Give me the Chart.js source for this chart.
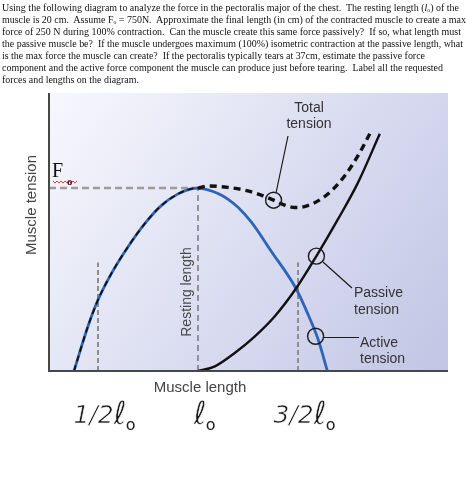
<!DOCTYPE html>
<html>
<head>
<meta charset="utf-8">
<script src="https://cdn.jsdelivr.net/npm/chart.js@4.4.0/dist/chart.umd.min.js"></script>
<style>
    html, body { margin: 0; padding: 0; background: #fff; }
    #wrap { position: relative; width: 467px; height: 496px; overflow: hidden; }
    #tension-chart { position: absolute; left: 0; top: 0; }
    #question {
        position: absolute; left: 2px; top: 1px;
        font-family: "Liberation Serif", "Times New Roman", serif;
        font-size: 11.2px; line-height: 12px; color: #111;
    }
    #question div { white-space: pre; transform-origin: 0 0; height: 12px; }
    #question sub { font-size: 6.5px; vertical-align: -1px; line-height: 0; }
</style>
</head>
<body>
<div id="wrap">
    <canvas id="tension-chart" width="467" height="496"></canvas>
    <div id="question">
        <div data-w="457">Using the following diagram to analyze the force in the pectoralis major of the chest.  The resting length (<i>l</i><sub>o</sub>) of the</div>
        <div data-w="464">muscle is 20 cm.  Assume F<sub>o</sub> = 750N.  Approximate the final length (in cm) of the contracted muscle to create a max</div>
        <div data-w="459">force of 250 N during 100% contraction.  Can the muscle create this same force passively?  If so, what length must</div>
        <div data-w="461">the passive muscle be?  If the muscle undergoes maximum (100%) isometric contraction at the passive length, what</div>
        <div data-w="423">is the max force the muscle can create?  If the pectoralis typically tears at 37cm, estimate the passive force</div>
        <div data-w="441">component and the active force component the muscle can produce just before tearing.  Label all the requested</div>
        <div data-w="137">forces and lengths on the diagram.</div>
    </div>
</div>
<script>
// muscle length in units of resting length, tension in units of F0
const activeX = [0.38, 0.447, 0.497, 0.564, 0.647, 0.731, 0.815, 0.898, 0.965, 1.0, 1.05, 1.1, 1.149, 1.2, 1.266, 1.366, 1.49, 1.55, 1.6, 1.647];
const activeY = [0, 0.235, 0.381, 0.527, 0.674, 0.802, 0.903, 0.967, 0.996, 1.0, 0.99, 0.97, 0.94, 0.895, 0.815, 0.655, 0.451, 0.31, 0.175, 0];

const passiveX = [1.0, 1.082, 1.182, 1.283, 1.383, 1.49, 1.592, 1.7, 1.8, 1.909];
const passiveY = [0, 0.024, 0.097, 0.188, 0.298, 0.451, 0.628, 0.83, 1.03, 1.297];

const totalX = [0.38, 0.447, 0.497, 0.564, 0.647, 0.731, 0.815, 0.898, 0.965, 1.0, 1.049, 1.149, 1.249, 1.316, 1.378, 1.433, 1.483, 1.533, 1.6, 1.667, 1.734, 1.8, 1.859];
const totalY = [0, 0.235, 0.381, 0.527, 0.674, 0.802, 0.903, 0.967, 0.996, 1.0, 1.012, 1.004, 0.985, 0.962, 0.934, 0.907, 0.894, 0.899, 0.93, 0.985, 1.068, 1.177, 1.297];

const refLengths = [0.5, 1.0, 1.5];
const refHeights = [0.593, 1.0, 0.593];
const lengthTicks = ["1/2", "", "3/2"];
const maxTension = 1.0;

const xMin = 0.255;
const xMax = 2.25;

const toPoints = (xs, ys) => xs.map((x, i) => ({ x: x, y: ys[i] }));

const refDatasets = refLengths.map((x, i) => ({
    label: "ref" + i,
    data: [{ x: x, y: 0 }, { x: x, y: refHeights[i] }],
    borderColor: i === 1 ? "#6a6a6a" : "#8e8e8e",
    borderWidth: i === 1 ? 1.3 : 2,
    borderDash: i === 1 ? [6, 4] : [5, 3],
    order: 10,
}));

const fitQuestion = () => {
    document.querySelectorAll("#question div").forEach((line) => {
        const span = document.createElement("span");
        span.innerHTML = line.innerHTML;
        line.innerHTML = "";
        line.appendChild(span);
        const natural = span.getBoundingClientRect().width;
        const target = parseFloat(line.dataset.w);
        line.style.transform = `scaleX(${target / natural})`;
    });
};

const decorPlugin = {
    id: "decor",
    beforeDatasetsDraw: (chart) => {
        const { ctx, chartArea: a } = chart;
        const g = ctx.createLinearGradient(a.left, a.top, a.right, a.bottom);
        g.addColorStop(0, "#f7f8fd");
        g.addColorStop(0.55, "#d9dcf0");
        g.addColorStop(1, "#c2c5e4");
        ctx.save();
        ctx.fillStyle = g;
        ctx.fillRect(a.left, a.top, a.right - a.left, a.bottom - a.top);
        ctx.restore();
    },
    afterDatasetsDraw: (chart) => {
        const { ctx, chartArea: a } = chart;
        const sx = chart.scales.x;
        const sy = chart.scales.y;
        ctx.save();

        // axes
        ctx.strokeStyle = "#474747";
        ctx.lineWidth = 2;
        ctx.beginPath();
        ctx.moveTo(a.left, a.top);
        ctx.lineTo(a.left, a.bottom);
        ctx.lineTo(a.right, a.bottom);
        ctx.stroke();

        // callout circles and leaders
        const circle = (x, y) => {
            ctx.beginPath();
            ctx.arc(sx.getPixelForValue(x), sy.getPixelForValue(y), 8, 0, Math.PI * 2);
            ctx.stroke();
        };
        ctx.strokeStyle = "#1c1c1c";
        ctx.lineWidth = 1.4;
        circle(1.378, 0.934);
        circle(1.592, 0.628);
        circle(1.588, 0.19);

        ctx.lineWidth = 1.2;
        ctx.beginPath();
        ctx.moveTo(288, 136);
        ctx.lineTo(276, 193);
        ctx.moveTo(323, 262);
        ctx.lineTo(352, 288);
        ctx.moveTo(324, 337.5);
        ctx.lineTo(359, 337.5);
        ctx.stroke();

        // text labels
        ctx.fillStyle = "#333";
        ctx.textBaseline = "middle";
        ctx.textAlign = "center";
        ctx.font = '14px "Liberation Sans", Arial, sans-serif';
        ctx.fillText("Total", 309, 108);
        ctx.fillText("tension", 309, 124);
        ctx.textAlign = "left";
        ctx.fillText("Passive", 354, 293);
        ctx.fillText("tension", 354, 310);
        ctx.fillText("Active", 360, 343);
        ctx.fillText("tension", 360, 359);

        ctx.fillStyle = "#444";
        ctx.textAlign = "center";
        ctx.font = '15px "Liberation Sans", Arial, sans-serif';
        ctx.fillText("Muscle length", 200, 388);

        ctx.save();
        ctx.translate(32, 205);
        ctx.rotate(-Math.PI / 2);
        ctx.fillText("Muscle tension", 0, 0);
        ctx.restore();

        ctx.save();
        ctx.fillStyle = "#4a4a4a";
        ctx.font = '14px "Liberation Sans", Arial, sans-serif';
        ctx.translate(187, 292);
        ctx.rotate(-Math.PI / 2);
        ctx.fillText("Resting length", 0, 0);
        ctx.restore();

        // F0 marker
        ctx.fillStyle = "#111";
        ctx.textAlign = "left";
        ctx.textBaseline = "alphabetic";
        ctx.font = '20px "Liberation Serif", serif';
        ctx.fillText("F", 52, 177);
        ctx.strokeStyle = "#d9463a";
        ctx.lineWidth = 1;
        ctx.beginPath();
        for (let px = 53; px <= 77; px += 2) {
            const py = 182 + ((px - 53) % 4 === 0 ? -1 : 1);
            if (px === 53) ctx.moveTo(px, py); else ctx.lineTo(px, py);
        }
        ctx.stroke();
        ctx.fillStyle = "#3a2420";
        ctx.font = 'bold 11px "Liberation Serif", serif';
        ctx.fillText("o", 67, 185);

        // handwritten length labels (main glyphs thinned with a white outline)
        ctx.fillStyle = "#1a1a1a";
        ctx.strokeStyle = "#fff";
        ctx.lineWidth = 0.6;
        ctx.lineJoin = "round";
        const fracFont = 'italic 25px "DejaVu Sans", sans-serif';
        const ellFont = 'italic 32px "DejaVu Sans", sans-serif';
        const subFont = '16px "DejaVu Sans", sans-serif';
        refLengths.forEach((x, i) => {
            const frac = lengthTicks[i];
            ctx.font = fracFont;
            const wFrac = ctx.measureText(frac).width;
            ctx.font = ellFont;
            const wEll = ctx.measureText("\u2113").width;
            ctx.font = subFont;
            const wSub = ctx.measureText("o").width;
            const left = sx.getPixelForValue(x) + 7 - (wFrac + wEll + wSub) / 2;
            ctx.font = fracFont;
            ctx.fillText(frac, left, 423);
            ctx.strokeText(frac, left, 423);
            ctx.font = ellFont;
            ctx.fillText("\u2113", left + wFrac, 424);
            ctx.strokeText("\u2113", left + wFrac, 424);
            ctx.font = subFont;
            ctx.fillText("o", left + wFrac + wEll - 1, 430);
        });

        ctx.restore();
    },
};

const tensionChart = () => {
    const canvas = document.getElementById("tension-chart");
    const ctx = canvas.getContext("2d");

    new Chart(ctx, {
        type: "line",
        data: {
            datasets: [
                {
                    label: "F0",
                    data: [{ x: xMin, y: maxTension }, { x: 1.0, y: maxTension }],
                    borderColor: "#9c9c9c",
                    borderWidth: 2.5,
                    borderDash: [7, 4],
                    order: 9,
                },
                ...refDatasets,
                {
                    label: "Active tension",
                    data: toPoints(activeX, activeY),
                    borderColor: "#2e64b8",
                    borderWidth: 2.8,
                    cubicInterpolationMode: "monotone",
                    order: 5,
                },
                {
                    label: "Passive tension",
                    data: toPoints(passiveX, passiveY),
                    borderColor: "#111",
                    borderWidth: 2.4,
                    cubicInterpolationMode: "monotone",
                    order: 4,
                },
                {
                    label: "Total tension",
                    data: toPoints(totalX, totalY),
                    borderColor: "#111",
                    borderWidth: 3.4,
                    borderDash: [7, 5],
                    cubicInterpolationMode: "monotone",
                    segment: {
                        borderWidth: (c) => (c.p0.parsed.x < 1 ? 1.8 : 3.4),
                        borderDash: (c) => (c.p0.parsed.x < 1 ? [6, 4] : [7, 5]),
                    },
                    order: 3,
                },
            ],
        },
        options: {
            responsive: false,
            animation: false,
            elements: { point: { radius: 0 } },
            layout: { padding: { left: 49, top: 93, right: 19, bottom: 125 } },
            scales: {
                x: { type: "linear", min: xMin, max: xMax, display: false },
                y: { type: "linear", min: 0, max: 1.52, display: false },
            },
            plugins: {
                legend: { display: false },
                tooltip: { enabled: false },
            },
        },
        plugins: [decorPlugin],
    });
};

document.addEventListener("DOMContentLoaded", () => {
    fitQuestion();
    tensionChart();
});
</script>
</body>
</html>
